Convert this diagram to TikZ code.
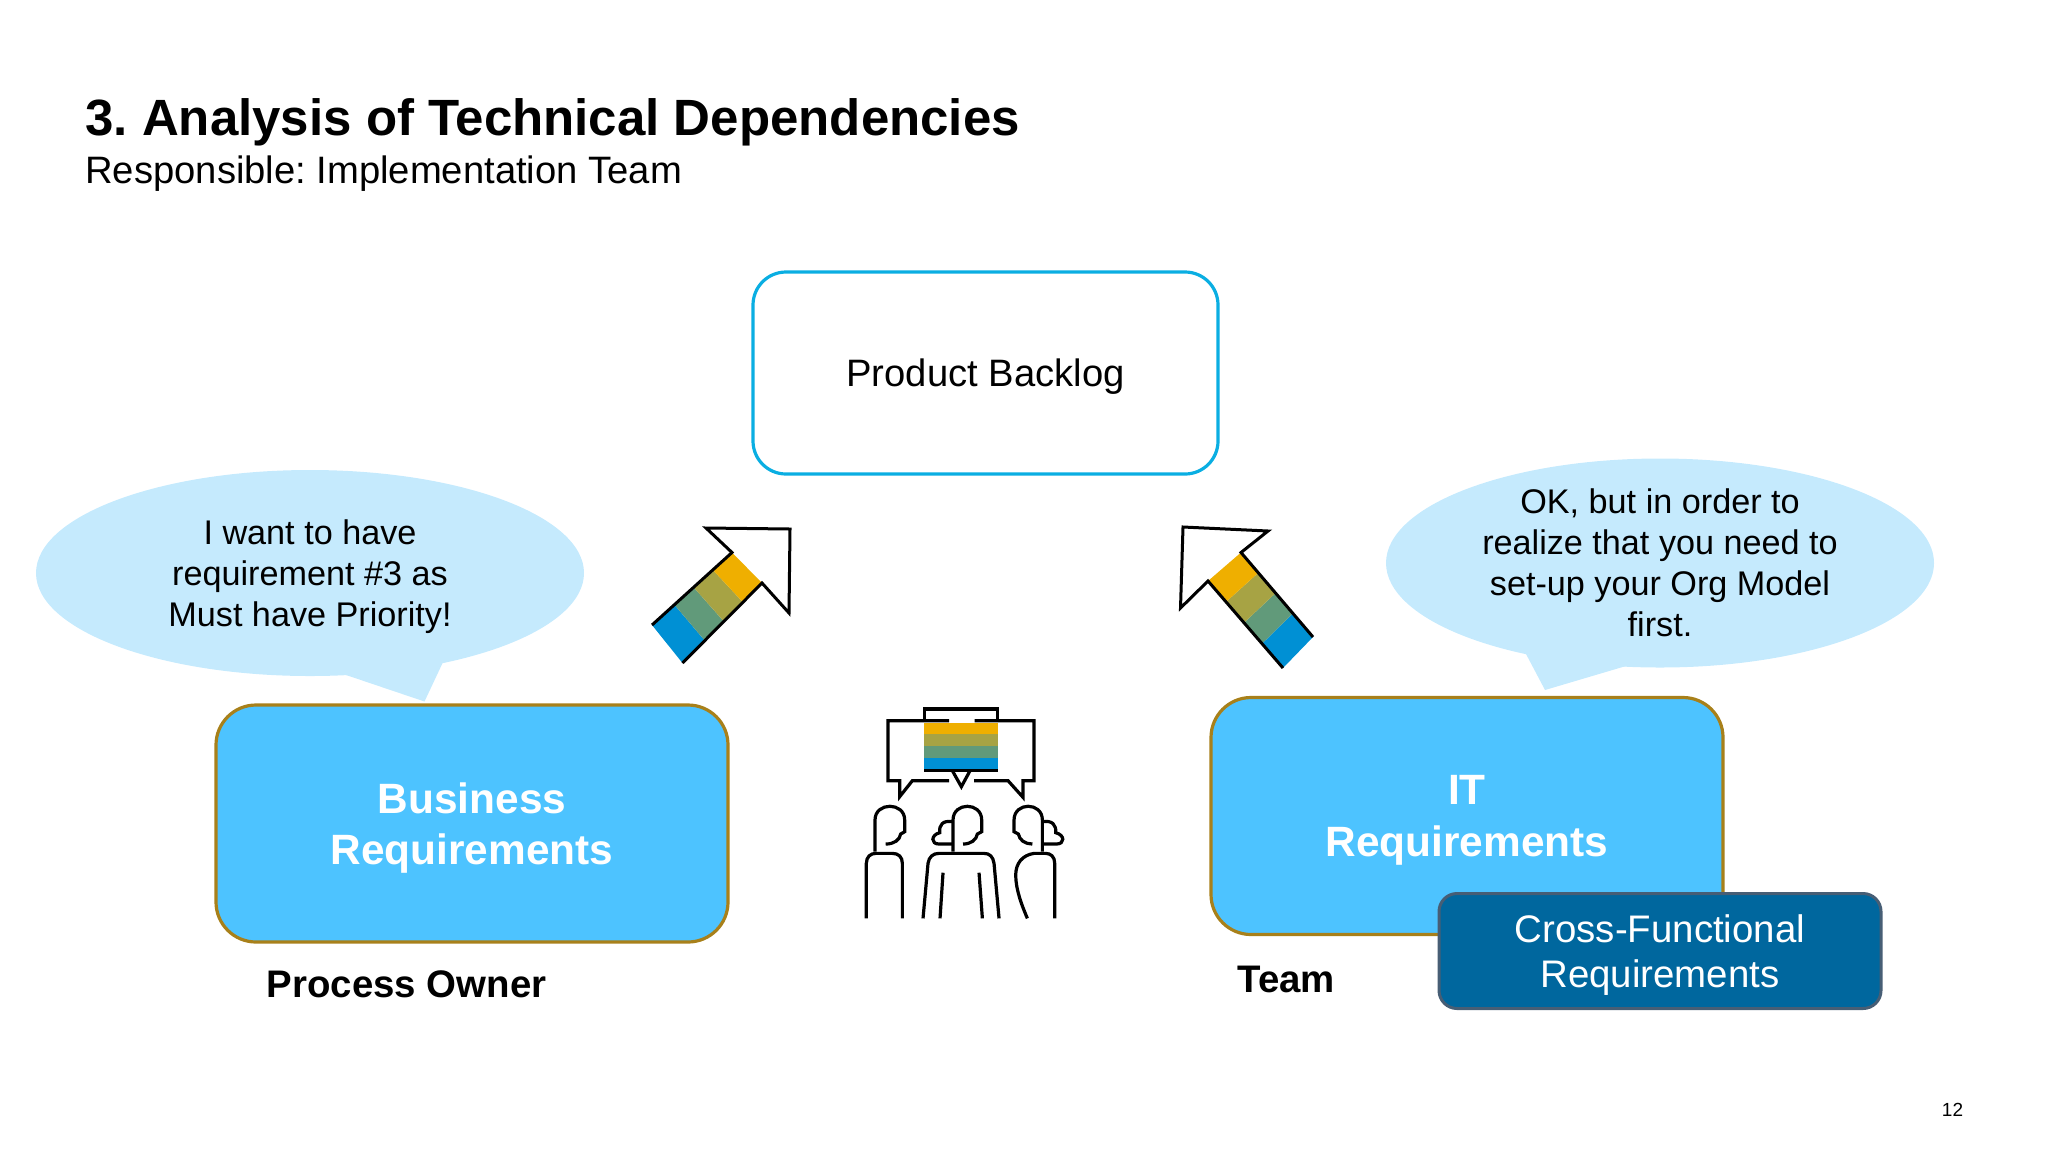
\documentclass[tikz,border=0pt]{standalone}
\usepackage{fontspec}
\setmainfont{Liberation Sans}
\usetikzlibrary{shapes.geometric,calc}

\definecolor{boxblue}{HTML}{4DC3FF}
\definecolor{boxgold}{HTML}{A8801A}
\definecolor{linecyan}{HTML}{0AAEE2}
\definecolor{bubbleblue}{HTML}{C5EAFD}
\definecolor{crossblue}{HTML}{00679E}
\definecolor{crossline}{HTML}{475E75}
\definecolor{stripeA}{HTML}{0090D4}
\definecolor{stripeB}{HTML}{619A7A}
\definecolor{stripeC}{HTML}{A7A344}
\definecolor{stripeD}{HTML}{EFAF00}

% tail, tail, shaft, barb, corner, corner, shaft
\newcommand{\bigarrow}[7]{
    \coordinate (A) at #1;
    \coordinate (B) at #2;
    \coordinate (C) at #3;
    \coordinate (D) at #4;
    \coordinate (E) at #5;
    \coordinate (F) at #6;
    \coordinate (G) at #7;
    \foreach \col/\from/\to in {stripeA/0/.28,stripeB/.28/.52,stripeC/.52/.76,stripeD/.76/1}
        \fill[\col] ($(A)!\from!(G)$) -- ($(A)!\to!(G)$) -- ($(B)!\to!(C)$) -- ($(B)!\from!(C)$) -- cycle;
    \draw[line width=1.5pt] (A) -- (G) -- (F) -- (E) -- (D) -- (C) -- (B);
}

\begin{document}
\frenchspacing
\begin{tikzpicture}[x=.5pt,y=-.5pt,line join=miter]

\tikzstyle{reqbox}=[draw=boxgold,fill=boxblue,line width=1.6pt,rounded corners=20pt,minimum width=256pt,minimum height=118.5pt,text depth=-1.2pt,align=center,text=white,font=\fontsize{21.2}{25.7}\selectfont\bfseries]
\tikzstyle{bubble}=[fill=bubbleblue,ellipse,inner sep=0pt,minimum width=274pt,minimum height=103pt,text depth=-1.2pt,align=center,font=\fontsize{17.1}{20.5}\selectfont]
\tikzstyle{owner}=[anchor=base west,font=\fontsize{19.2}{22}\selectfont\bfseries]
\tikzstyle{person}=[line width=1.6pt,line cap=butt]

    \useasboundingbox (0,0) rectangle (2048,1152);

    \node[anchor=base west,inner sep=0pt,font=\fontsize{25.5}{30}\selectfont\bfseries] (title) at (85,135.5) {3. Analysis of Technical Dependencies};
    \node[anchor=base west,inner sep=0pt,font=\fontsize{19.1}{22}\selectfont] (subtitle) at (85,183.5) {Responsible: Implementation Team};

    \node[draw=linecyan,line width=1.6pt,rounded corners=16.5pt,minimum width=232.5pt,minimum height=101pt,text depth=-1.2pt,font=\fontsize{19.1}{22}\selectfont] (backlog) at (985.5,373) {Product Backlog};

    \fill[bubbleblue] (346,675) -- (424.5,701.5) -- (444,660) -- cycle;
    \node[bubble] (wish) at (310,573) {I want to have\\requirement \#3 as\\Must have Priority!};

    \fill[bubbleblue] (1526,654) -- (1545,690) -- (1626,666) -- cycle;
    \node[bubble] (reply) at (1660,563) {OK, but in order to\\realize that you need to\\set-up your Org Model\\first.};

    \node[reqbox] (business) at (472,823.5) {Business\\Requirements};
    \node[reqbox] (it) at (1467,816) {IT\\Requirements};
    \node[draw=crossline,fill=crossblue,line width=1.5pt,rounded corners=9pt,minimum width=221pt,minimum height=57.5pt,text depth=-.6pt,align=center,text=white,font=\fontsize{19.2}{22.9}\selectfont] (cross) at (1660,951) {Cross-Functional\\Requirements};

    \node[owner,inner sep=0pt] (owner) at (266.5,997) {Process Owner};
    \node[owner,inner sep=0pt] (team) at (1237,992) {Team};
    \node[inner sep=0pt,font=\fontsize{9.5}{11}\selectfont] (page) at (1952.5,1110) {12};

    % the two block arrows
    \bigarrow{(652,625)}{(682.5,663)}{(762,583)}{(789,613)}{(790,529)}{(706,528)}{(732,552.5)}
    \bigarrow{(1313,637)}{(1283,668)}{(1208,581)}{(1180.5,608)}{(1183,527)}{(1268,531)}{(1241,552.5)}

    % people talking
    \begin{scope}[shift={(859,700)},x=.1667pt,y=-.1667pt,person]
        \foreach \col/\from/\to in {stripeD/68/102,stripeC/102/137,stripeB/137/173,stripeA/173/206}
            \fill[\col] (195,\from) rectangle (418,\to);
        \draw (197,58) -- (197,27) -- (415,27) -- (415,58);
        \draw (270,62) -- (87,62) -- (87,242) -- (122,242) -- (122,290) -- (160,242) -- (270,242);
        \draw (347,62) -- (525,62) -- (525,242) -- (492,242) -- (492,292) -- (447,242) -- (345,242);
        \draw (195,212) -- (418,212);
        \draw (280,212) -- (307,260) -- (333,212);

        \draw (48,455) -- (48,360) .. controls (48,305) and (137,305) .. (137,360) -- (137,395) -- (125,402) .. controls (122,420) and (105,432) .. (80,432);
        \draw (22,655) -- (22,490) .. controls (22,470) and (35,460) .. (50,460) -- (100,460) .. controls (118,460) and (130,470) .. (130,490) -- (130,655);

        \draw (282,455) -- (282,360) .. controls (282,305) and (368,305) .. (368,360) -- (368,395) -- (355,402) .. controls (352,420) and (335,432) .. (312,432);
        \draw (282,365) .. controls (250,360) and (240,375) .. (242,398) .. controls (215,405) and (215,432) .. (240,432) -- (282,432);
        \draw (192,655) -- (207,490) .. controls (210,470) and (222,460) .. (240,460) -- (375,460) .. controls (392,460) and (402,470) .. (405,490) -- (420,655);
        \draw (252,518) -- (243,655);
        \draw (360,518) -- (370,655);

        \draw (550,455) -- (550,360) .. controls (550,305) and (465,305) .. (465,360) -- (465,395) -- (478,402) .. controls (481,420) and (498,432) .. (520,432);
        \draw (550,365) .. controls (580,360) and (592,375) .. (590,398) .. controls (618,405) and (618,432) .. (592,432) -- (550,432);
        \draw (587,655) -- (587,490) .. controls (587,470) and (575,460) .. (560,460) -- (525,460) .. controls (490,465) and (470,490) .. (470,525) .. controls (470,570) and (490,620) .. (505,655);
    \end{scope}

\end{tikzpicture}
\end{document}
